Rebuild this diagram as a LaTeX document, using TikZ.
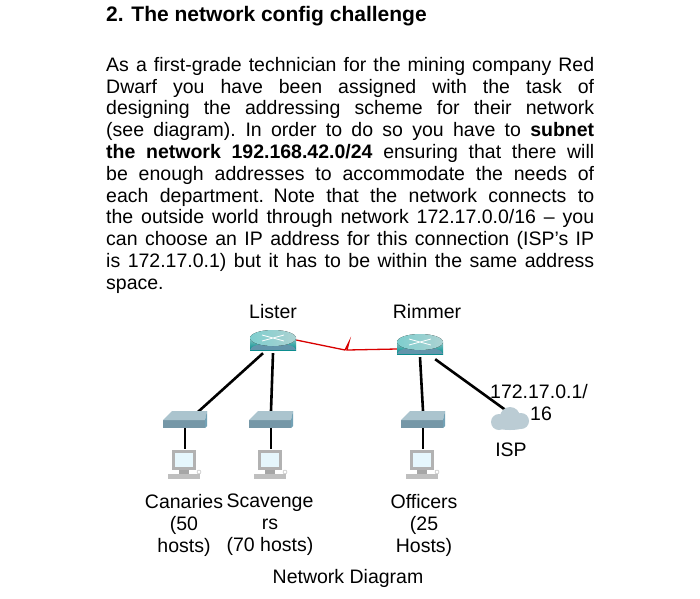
\documentclass[tikz,border=0pt]{standalone}
\usepackage{fontspec}
\setmainfont{Liberation Sans}
\newcommand{\jline}[1]{\leavevmode\hbox to 488pt{\spaceskip=0.25em plus 10em\relax #1}}
\begin{document}
\begin{tikzpicture}[x=1pt,y=-1pt,
  lbl/.style={font=\fontsize{19.5}{22}\selectfont, align=center, inner sep=0pt},
  box/.style={inner sep=0pt, minimum width=#1, minimum height=16pt},
  link/.style={line width=2.6pt, black},
  drop/.style={line width=1.8pt, black}]
\useasboundingbox (0,0) rectangle (700,598);
\fill[white] (0,0) rectangle (700,598);
% text
\node[anchor=base west, inner sep=0pt, font=\fontsize{21}{22}\selectfont\bfseries] at (106,21) {2. The network config challenge};
\node[anchor=north west, inner sep=0pt, font=\fontsize{19.5}{21.8}\selectfont, text width=488pt] at (106,57) {%
\jline{As a first-grade technician for the mining company Red}\\
\jline{Dwarf you have been assigned with the task of}\\
\jline{designing the addressing scheme for their network}\\
\jline{(see diagram). In order to do so you have to \textbf{subnet}}\\
\jline{\textbf{the network 192.168.42.0/24} ensuring that there will}\\
\jline{be enough addresses to accommodate the needs of}\\
\jline{each department. Note that the network connects to}\\
\jline{the outside world through network 172.17.0.0/16 – you}\\
\jline{can choose an IP address for this connection (ISP’s IP}\\
\jline{is 172.17.0.1) but it has to be within the same address}\\
space.};
% nodes (placeholders)
\node[box=46pt, minimum height=28pt] (r1) at (273,343) {};
\node[box=46pt, minimum height=28pt] (r2) at (420,347) {};
\node[box=44pt] (s1) at (185,419) {};
\node[box=44pt] (s2) at (271,419) {};
\node[box=44pt] (s3) at (423,419) {};
\node[box=34pt, minimum height=34pt] (p1) at (185,466) {};
\node[box=34pt, minimum height=34pt] (p2) at (271,466) {};
\node[box=34pt, minimum height=34pt] (p3) at (423,466) {};
\node[box=40pt, minimum height=20pt] (isp) at (510,420) {};
% connectors
\draw[link] ([xshift=-10pt,yshift=4pt]r1.south) -- ([xshift=12pt,yshift=-2pt]s1.north);
\draw[link] ([yshift=4pt]r1.south) -- (s2.north);
\draw[link] ([yshift=4pt]r2.south) -- (s3.north);
\draw[link] ([xshift=-8pt,yshift=2pt]r2.south east) -- ([xshift=-2pt,yshift=-2pt]isp.north);
\draw[drop] (s1.south) -- (p1.north);
\draw[drop] (s2.south) -- (p2.north);
\draw[drop] (s3.south) -- (p3.north);
\draw[red!85!black, line width=1.3pt] ([yshift=3pt]r1.east) -- (345,350) -- (349,342) -- (347,350) -- ([yshift=-2pt]r2.west);
% icons
\tikzset{router/.pic={
  \fill[top color=cyan!35!gray!70, bottom color=cyan!55!black] (-23,-5) rectangle (23,7);
  \fill[cyan!55!black!80] (-23,7) arc[start angle=180,end angle=360,x radius=23,y radius=7] -- cycle;
  \fill[left color=cyan!45!gray!70, right color=cyan!30!gray!50] (0,-5) ellipse[x radius=23, y radius=8];
  \draw[white, line width=0.8pt] (-11,-8)--(11,-2) (-11,-2)--(11,-8);
},
switch/.pic={
  \fill[cyan!45!black!70] (-22,1) rectangle (20,9);
  \fill[cyan!30!gray!60] (-22,1) -- (-13,-8) -- (22,-8) -- (20,1) -- cycle;
  \fill[cyan!55!black!70] (20,1) -- (22,-8) -- (22,7) -- (20,9) -- cycle;
},
pc/.pic={
  \fill[gray!60] (-13,-16) rectangle (11,4);
  \fill[cyan!10] (-10,-13) rectangle (8,1);
  \fill[gray!70] (-6,4) rectangle (4,8);
  \fill[gray!50] (-17,8) rectangle (15,13);
  \draw[gray!60] (14,6) circle (2);
},
cloud/.pic={
  \fill[cyan!25!gray!50] (-11,2) circle (8) (0,-3) circle (10) (11,1) circle (8) (0,5) ellipse (17 and 5);
}}
\pic at (r1) {router};
\pic at (r2) {router};
\pic at (s1) {switch};
\pic at (s2) {switch};
\pic at (s3) {switch};
\pic at (p1) {pc};
\pic at (p2) {pc};
\pic at (p3) {pc};
\pic at (isp) {cloud};
% labels
\node[lbl] (l1) at (273,312) {Lister};
\node[lbl] (l2) at (427,312) {Rimmer};
\node[lbl, anchor=west] (ip) at (490,392) {172.17.0.1/};
\node[lbl, anchor=west] (ip2) at (530,414) {16};
\node[lbl] (ispl) at (511,450) {ISP};
\node[lbl] (c1) at (184,525) {Canaries\\(50\\hosts)};
\node[lbl] (c2) at (270,525) {Scavenge\\rs\\(70 hosts)};
\node[lbl] (c3) at (424,525) {Officers\\(25\\Hosts)};
\node[lbl] (nd) at (348,578) {Network Diagram};
\end{tikzpicture}
\end{document}
